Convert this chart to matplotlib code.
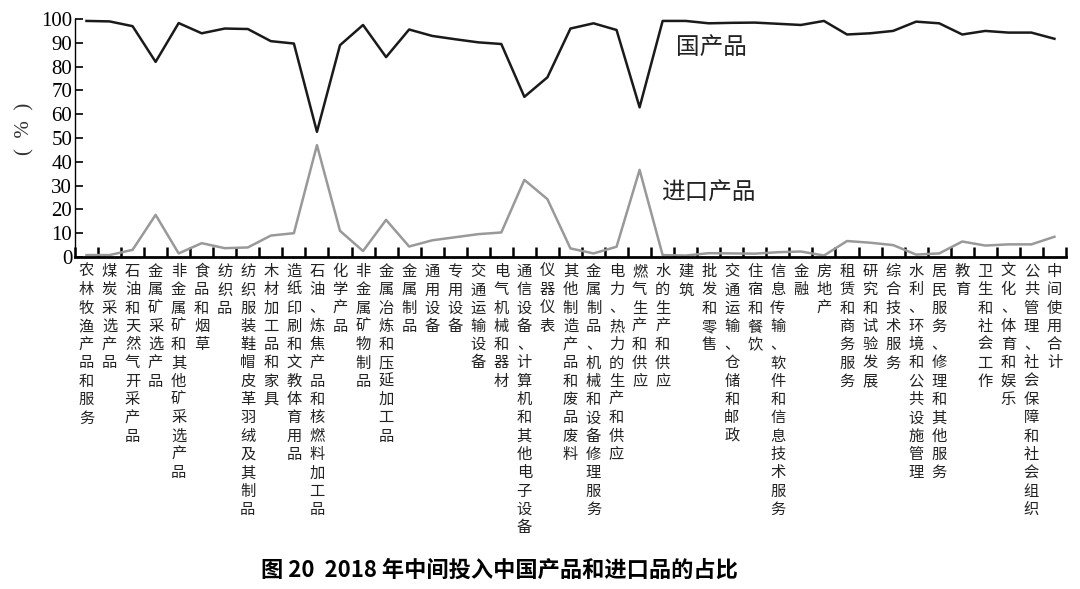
import matplotlib
matplotlib.use("Agg")
import matplotlib.pyplot as plt
import matplotlib.transforms as mtransforms
import numpy as np

plt.rcParams['font.family'] = ['Noto Sans CJK SC', 'DejaVu Sans']

# 行业名称
categories = [
    "农林牧渔产品和服务", "煤炭采选产品", "石油和天然气开采产品", "金属矿采选产品",
    "非金属矿和其他矿采选产品", "食品和烟草", "纺织品", "纺织服装鞋帽皮革羽绒及其制品",
    "木材加工品和家具", "造纸印刷和文教体育用品", "石油、炼焦产品和核燃料加工品",
    "化学产品", "非金属矿物制品", "金属冶炼和压延加工品", "金属制品", "通用设备",
    "专用设备", "交通运输设备", "电气机械和器材", "通信设备、计算机和其他电子设备",
    "仪器仪表", "其他制造产品和废品废料", "金属制品、机械和设备修理服务",
    "电力、热力的生产和供应", "燃气生产和供应", "水的生产和供应", "建筑", "批发和零售",
    "交通运输、仓储和邮政", "住宿和餐饮", "信息传输、软件和信息技术服务", "金融",
    "房地产", "租赁和商务服务", "研究和试验发展", "综合技术服务",
    "水利、环境和公共设施管理", "居民服务、修理和其他服务", "教育", "卫生和社会工作",
    "文化、体育和娱乐", "公共管理、社会保障和社会组织", "中间使用合计",
]

# 国产品占比 (%)
domestic = [99.2, 99.0, 97.0, 82.0, 98.3, 94.0, 96.0, 95.8, 90.7, 89.7, 52.6,
            89.0, 97.5, 84.0, 95.6, 92.9, 91.5, 90.2, 89.5, 67.3, 75.5, 96.0,
            98.2, 95.4, 62.9, 99.2, 99.2, 98.2, 98.4, 98.5, 98.0, 97.5, 99.2,
            93.5, 94.0, 95.0, 98.9, 98.2, 93.5, 95.0, 94.3, 94.3, 91.7]
# 进口产品占比 (%)
imported = [0.8, 0.8, 3.0, 17.7, 1.5, 5.8, 3.7, 4.0, 9.0, 10.0, 47.0,
            11.0, 2.5, 15.6, 4.4, 7.0, 8.3, 9.6, 10.3, 32.4, 24.3, 3.6,
            1.5, 4.3, 36.6, 0.8, 0.6, 1.6, 1.5, 1.4, 2.0, 2.3, 0.6,
            6.7, 6.0, 5.0, 1.0, 1.5, 6.5, 4.8, 5.3, 5.3, 8.5]

x = np.arange(len(categories))

fig = plt.figure(figsize=(10.8, 5.89), dpi=100)
ax = fig.add_axes([0.0694, 0.5637, 0.9176, 0.404])

ax.plot(x, domestic, color="#1a1a1a", lw=1.8, clip_on=False)
ax.plot(x, imported, color="#999999", lw=1.8, clip_on=False)

ax.set_xlim(-0.5, len(categories) - 0.5)
ax.set_ylim(0, 100)

# 轴线
ax.spines['top'].set_visible(False)
ax.spines['right'].set_visible(False)
ax.spines['bottom'].set_linewidth(2.0)
ax.spines['left'].set_linewidth(1.0)

ax.set_xticks(np.arange(len(categories) + 1) - 0.5)
ax.set_xticklabels([])
ax.tick_params(axis='x', direction='in', length=7, width=1.8)
ax.set_yticks(range(0, 101, 10))
ax.set_yticklabels([str(v) for v in range(0, 101, 10)],
                   fontfamily='Liberation Serif', fontsize=15)
ax.tick_params(axis='y', direction='in', length=6, width=1.2, pad=2)

ax.text(-0.0505, 0.538, "(  %  )", transform=ax.transAxes, rotation=90,
        ha='center', va='center', fontsize=15, color="#333333",
        fontfamily='Liberation Serif')

# 竖排行业标签
trans = mtransforms.blended_transform_factory(ax.transData, fig.transFigure)
for i, name in enumerate(categories):
    ax.text(i, 1 - 263 / 589, "\n".join(name), transform=trans,
            ha='center', va='top', fontsize=11, linespacing=1.10,
            color="#222222")

ax.text(27.1, 88.2, "国产品", fontsize=17, ha='center', va='center', color="#222222")
ax.text(27.0, 27.3, "进口产品", fontsize=17, ha='center', va='center', color="#222222")

fig.text(0.462, 1 - 570 / 589, "图 20  2018 年中间投入中国产品和进口品的占比",
         ha='center', va='center', fontsize=16, fontweight='bold')

fig.savefig("out.png", dpi=100)
